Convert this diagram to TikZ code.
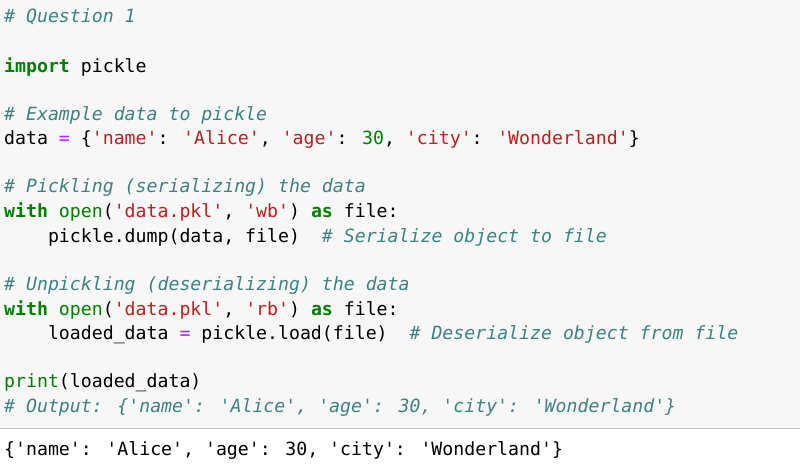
\documentclass[tikz,border=0pt]{standalone}
\usepackage{fontspec}
\newfontfamily\code{DejaVu Sans Mono}
\definecolor{cmt}{HTML}{3D8282}
\definecolor{kwc}{HTML}{008000}
\definecolor{strc}{HTML}{BA2121}
\definecolor{opc}{HTML}{AA22FF}
\definecolor{bgc}{HTML}{F7F7F7}
\newcommand{\cmx}[1]{\textcolor{cmt}{\itshape #1}}
\newcommand{\kwx}[1]{\textcolor{kwc}{\bfseries #1}}
\newcommand{\bix}[1]{\textcolor{kwc}{#1}}
\newcommand{\stx}[1]{\textcolor{strc}{#1}}
\newcommand{\opx}[1]{\textcolor{opc}{#1}}
\begin{document}
\begin{tikzpicture}[x=1pt,y=-1pt,
  ln/.style={anchor=base west,inner sep=0pt,font=\code\fontsize{18.2}{20}\selectfont,text=black}]
\useasboundingbox (0,0) rectangle (800,465);
\fill[bgc] (0,0) rectangle (800,428);
\draw[black!25,line width=1pt] (0,428) -- (800,428);
\node[ln] (l1) at (4,23) {\cmx{\# Question 1}};
\node[ln] (l3) at (4,73) {\kwx{import} pickle};
\node[ln] (l5) at (4,121) {\cmx{\# Example data to pickle}};
\node[ln] (l6) at (4,145) {data \opx{=} \{\stx{'name'}: \stx{'Alice'}, \stx{'age'}: \bix{30}, \stx{'city'}: \stx{'Wonderland'}\}};
\node[ln] (l8) at (4,193) {\cmx{\# Pickling (serializing) the data}};
\node[ln] (l9) at (4,217) {\kwx{with} \bix{open}(\stx{'data.pkl'}, \stx{'wb'}) \kwx{as} file:};
\node[ln] (l10) at (4,242) {\ \ \ \ pickle.dump(data, file)\ \ \cmx{\# Serialize object to file}};
\node[ln] (l12) at (4,290) {\cmx{\# Unpickling (deserializing) the data}};
\node[ln] (l13) at (4,315) {\kwx{with} \bix{open}(\stx{'data.pkl'}, \stx{'rb'}) \kwx{as} file:};
\node[ln] (l14) at (4,339) {\ \ \ \ loaded\_data \opx{=} pickle.load(file)\ \ \cmx{\# Deserialize object from file}};
\node[ln] (l16) at (4,387) {\bix{print}(loaded\_data)};
\node[ln] (l17) at (4,412) {\cmx{\# Output: \{'name': 'Alice', 'age': 30, 'city': 'Wonderland'\}}};
\node[ln] (out) at (4,455) {\{'name': 'Alice', 'age': 30, 'city': 'Wonderland'\}};
\end{tikzpicture}
\end{document}
